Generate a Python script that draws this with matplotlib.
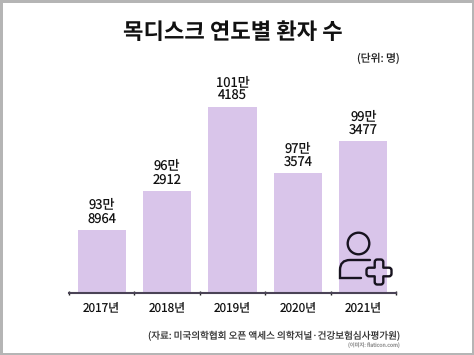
import matplotlib
matplotlib.use("Agg")
import matplotlib.pyplot as plt
from matplotlib.patches import Circle, PathPatch, Rectangle
from matplotlib.path import Path
from matplotlib.transforms import Affine2D

plt.rcParams['font.family'] = ['Noto Sans CJK KR', 'DejaVu Sans']
plt.rcParams['text.hinting'] = 'no_hinting'

years = ['2017년', '2018년', '2019년', '2020년', '2021년']
patients = [938964, 962912, 1014185, 973574, 993477]
value_labels = ['93만\n8964', '96만\n2912', '101만\n4185', '97만\n3574', '99만\n3477']
title = '목디스크 연도별 환자 수'
unit = '(단위: 명)'
source = '(자료: 미국의학협회 오픈 액세스 의학저널·건강보험심사평가원)'
credit = '(이미지: flaticon.com)'

W, H = 474, 355
fig = plt.figure(figsize=(W / 100, H / 100), dpi=100, facecolor='white')

def px(x, y):
    return x / W, 1 - y / H

# grey frame
fig.add_artist(Rectangle((0, 0), 1, 1, transform=fig.transFigure, fill=False,
                         ec='#b5b5b5', lw=3.6))

# axes
x0, x1, ytop, ybot = 69, 396, 60, 292.5
ax = fig.add_axes([x0 / W, 1 - ybot / H, (x1 - x0) / W, (ybot - ytop) / H])
ax.set_facecolor('none')
base = 900500
top = base + (ybot - ytop) / 16.3 * 10000
pos = list(range(len(years)))
ax.bar(pos, patients, width=0.74, color='#d9c5ea', linewidth=0)
ax.set_xlim(-0.5, len(years) - 0.5)
ax.set_ylim(base, top)
for s in ['top', 'left', 'right']:
    ax.spines[s].set_visible(False)
ax.spines['bottom'].set_color('#4a4356')
ax.spines['bottom'].set_linewidth(1.5)
ax.yaxis.set_visible(False)
ax.set_xticks([p - 0.5 for p in pos] + [pos[-1] + 0.5])
ax.tick_params(axis='x', which='major', length=2.5, width=1, color='#222222',
               direction='inout', labelbottom=False)
for p, y in zip(pos, years):
    ax.annotate(y, (p, base), xytext=(0, -11), textcoords='offset points',
                ha='center', va='center', fontsize=8.5, color='#111111')
for p, v, l in zip(pos, patients, value_labels):
    ax.annotate(l, (p, v), xytext=(0, 3), textcoords='offset points',
                ha='center', va='bottom', fontsize=9.4, color='#111111',
                linespacing=1.03)

# texts
fig.text(*px(233, 33), title, ha='center', va='center', fontsize=16,
         fontweight='bold', color='#111111')
fig.text(*px(400, 59), unit, ha='right', va='center', fontsize=7.8, color='#222222')
fig.text(*px(400, 336.5), source, ha='right', va='center', fontsize=6.9, color='#333333')
fig.text(*px(400, 345.5), credit, ha='right', va='center', fontsize=3.8, color='#999999')

# person-plus icon (decoration), in image pixels
to_fig = Affine2D().scale(1 / W, -1 / H).translate(0, 1) + fig.transFigure
ic = '#17131f'
lw = 1.7
fig.add_artist(Circle((358.5, 243.5), 10.8, transform=to_fig, fill=False, ec=ic, lw=lw))
body = Path([(370, 260), (350, 260), (340, 260), (340, 270), (340, 278), (361, 278)],
            [Path.MOVETO, Path.LINETO, Path.CURVE3, Path.CURVE3, Path.LINETO, Path.LINETO])
fig.add_artist(PathPatch(body, transform=to_fig, fill=False, ec=ic, lw=lw, capstyle='round'))

# plus outline with rounded tips
cx, cy, a, b = 379, 272, 12.5, 4.3
r = 2.5
verts = []
codes = []
def start(p):
    verts.append(p); codes.append(Path.MOVETO)
def line(p):
    verts.append(p); codes.append(Path.LINETO)
def curve(c, p):
    verts.extend([c, p]); codes.extend([Path.CURVE3, Path.CURVE3])
for i, (ux, uy) in enumerate([(0, -1), (1, 0), (0, 1), (-1, 0)]):
    sx, sy = -uy, ux
    p1 = (cx + ux * (a - r) - sx * b, cy + uy * (a - r) - sy * b)
    c1 = (cx + ux * a - sx * b, cy + uy * a - sy * b)
    p2 = (cx + ux * a - sx * (b - r), cy + uy * a - sy * (b - r))
    p3 = (cx + ux * a + sx * (b - r), cy + uy * a + sy * (b - r))
    c2 = (cx + ux * a + sx * b, cy + uy * a + sy * b)
    p4 = (cx + ux * (a - r) + sx * b, cy + uy * (a - r) + sy * b)
    inner = (cx + ux * b + sx * b, cy + uy * b + sy * b)
    if i == 0:
        start(p1)
    else:
        line(p1)
    curve(c1, p2)
    line(p3)
    curve(c2, p4)
    line(inner)
verts.append(verts[0]); codes.append(Path.LINETO)
plus = Path(verts, codes)
fig.add_artist(PathPatch(plus, transform=to_fig, fill=False, ec=ic, lw=lw, joinstyle='round'))

fig.savefig('out.png', dpi=100)
